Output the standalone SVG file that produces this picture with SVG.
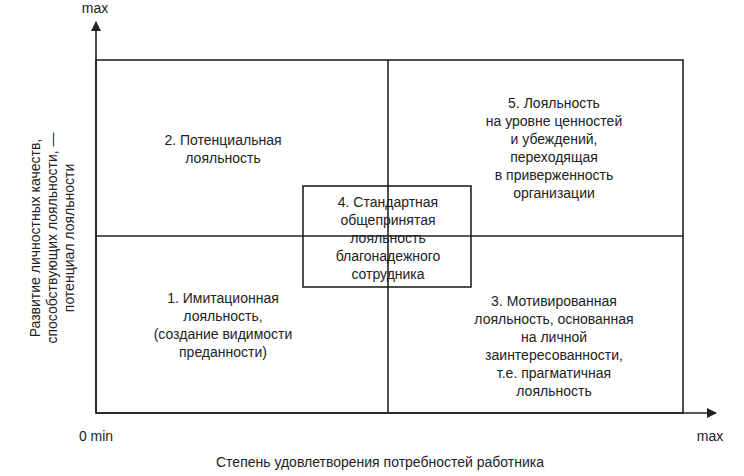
<svg xmlns="http://www.w3.org/2000/svg" width="744" height="476" viewBox="0 0 744 476">
<style>
text{font-family:"Liberation Sans",Arial,sans-serif;font-size:14px;fill:#222;text-anchor:middle}
.l{stroke:#222;stroke-width:1.6;fill:none}
</style>
<defs><marker id="a" markerWidth="10" markerHeight="10" refX="9" refY="5" orient="auto" markerUnits="userSpaceOnUse"><path d="M0,0 L10,5 L0,10 Z" fill="#222"/></marker></defs>
<rect width="744" height="476" fill="#fff"/>
<g id="connectors">
<line class="l" x1="96" y1="413" x2="96" y2="22" marker-end="url(#a)"/>
<line class="l" x1="96" y1="413" x2="716" y2="413" marker-end="url(#a)"/>
<rect class="l" x="96" y="60" width="587" height="353"/>
<line class="l" x1="388" y1="60" x2="388" y2="413"/>
<line class="l" x1="96" y1="236" x2="683" y2="236"/>
</g>
<g id="n2"><text x="223" y="145">2. Потенциальная</text><text x="223" y="163">лояльность</text></g>
<g id="n5"><text x="554" y="108">5. Лояльность</text><text x="554" y="126">на уровне ценностей</text><text x="554" y="144">и убеждений,</text><text x="554" y="162">переходящая</text><text x="554" y="180">в приверженность</text><text x="554" y="198">организации</text></g>
<g id="n1"><text x="223" y="303">1. Имитационная</text><text x="223" y="321">лояльность,</text><text x="223" y="339">(создание видимости</text><text x="223" y="357">преданности)</text></g>
<g id="n3"><text x="554" y="306">3. Мотивированная</text><text x="554" y="324">лояльность, основанная</text><text x="554" y="342">на личной</text><text x="554" y="360">заинтересованности,</text><text x="554" y="378">т.е. прагматичная</text><text x="554" y="396">лояльность</text></g>
<g id="n4"><rect class="l" x="303" y="186" width="168" height="101" fill="#fff"/><text x="388" y="207">4. Стандартная</text><text x="388" y="225">общепринятая</text><text x="388" y="243">лояльность</text><text x="388" y="261">благонадежного</text><text x="388" y="279">сотрудника</text></g>
<g id="labels">
<text x="95" y="13">max</text>
<text x="96" y="441">0 min</text>
<text x="710" y="441">max</text>
<text x="380" y="467">Степень удовлетворения потребностей работника</text>
<text transform="translate(40,238) rotate(-90)">Развитие личностных качеств,</text>
<text transform="translate(57,238) rotate(-90)">способствующих лояльности, —</text>
<text transform="translate(74,238) rotate(-90)">потенциал лояльности</text>
</g>
</svg>
